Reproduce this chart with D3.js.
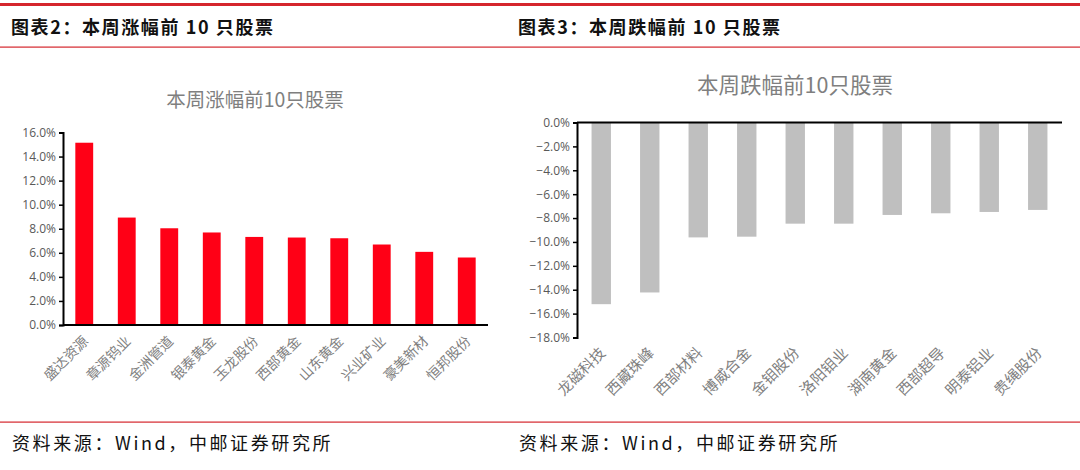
<!DOCTYPE html>
<html>
<head>
<meta charset="utf-8">
<script src="https://cdn.jsdelivr.net/npm/d3@7"></script>
<style>
  body { margin: 0; background: #fff; }
  svg { display: block; }
</style>
</head>
<body>
<div id="chart-area"></div>
<script>
// data
var upNames = ["盛达资源", "章源钨业", "金洲管道", "银泰黄金", "玉龙股份", "西部黄金", "山东黄金", "兴业矿业", "豪美新材", "恒邦股份"]
var upValues = [15.15, 8.93, 8.04, 7.69, 7.32, 7.27, 7.21, 6.69, 6.08, 5.61]
var upTicks = [0, 2, 4, 6, 8, 10, 12, 14, 16]

var downNames = ["龙磁科技", "西藏珠峰", "西部材料", "博威合金", "金钼股份", "洛阳钼业", "湖南黄金", "西部超导", "明泰铝业", "贵绳股份"]
var downValues = [-15.21, -14.23, -9.62, -9.56, -8.47, -8.47, -7.74, -7.60, -7.49, -7.32]
var downTicks = [0, -2, -4, -6, -8, -10, -12, -14, -16, -18]

var width = 1080
var height = 470
var red = "#d5262d"
var cjk = "'Noto Sans CJK SC', 'Noto Sans', sans-serif"

var svg = d3.select("#chart-area").append("svg")
  .attr("width", width)
  .attr("height", height)

// frame lines
svg.append("rect").attr("x", 0).attr("y", 3).attr("width", width).attr("height", 3).attr("fill", red)
svg.append("rect").attr("x", 0).attr("y", 46.5).attr("width", width).attr("height", 1.2).attr("fill", red)
svg.append("rect").attr("x", 0).attr("y", 421.5).attr("width", width).attr("height", 1.2).attr("fill", red)

// headings + footers
var heads = [{x: 11, t: "图表2：本周涨幅前 10 只股票"}, {x: 518, t: "图表3：本周跌幅前 10 只股票"}]
heads.forEach(h => {
  svg.append("text")
    .attr("x", h.x).attr("y", 34)
    .attr("font-family", cjk).attr("font-size", "18px").attr("font-weight", "bold")
    .attr("letter-spacing", "1.6px")
    .attr("fill", "#111")
    .text(h.t)
  svg.append("text")
    .attr("x", h.x + 1).attr("y", 450)
    .attr("font-family", cjk).attr("font-size", "18px")
    .attr("letter-spacing", "2.6px")
    .attr("fill", "#111")
    .text("资料来源：Wind，中邮证券研究所")
})

function drawChart(opt) {
  var g = svg.append("g")

  g.append("text")
    .attr("x", opt.titleX).attr("y", opt.titleY)
    .attr("text-anchor", "middle")
    .attr("font-family", cjk).attr("font-size", opt.titleSize)
    .attr("fill", "#7f7f7f")
    .text(opt.title)

  var x = d3.scaleBand()
    .domain(opt.names)
    .range([opt.left, opt.right])
    .paddingInner(opt.pad)
    .paddingOuter(opt.pad / 2)

  var y = d3.scaleLinear()
    .domain(opt.domain)
    .range([opt.bottom, opt.top])

  var yAxis = d3.axisLeft(y)
    .tickValues(opt.ticks)
    .tickSize(4)
    .tickFormat(d => d3.format(".1f")(d) + "%")

  var yg = g.append("g")
    .attr("transform", "translate(" + opt.left + ",0)")
    .call(yAxis)
  yg.select(".domain").attr("stroke", "#000").attr("stroke-width", 2)
  yg.selectAll(".tick line").attr("stroke", "#000").attr("stroke-width", 1.5)
  yg.selectAll(".tick text")
    .attr("x", -7)
    .attr("font-family", "'Open Sans', sans-serif")
    .attr("font-size", "12px")
    .attr("fill", "#595959")

  g.selectAll(".bar")
    .data(opt.values)
    .enter().append("rect")
    .attr("x", (d, i) => x(opt.names[i]))
    .attr("width", x.bandwidth())
    .attr("y", d => y(Math.max(0, d)))
    .attr("height", d => Math.abs(y(d) - y(0)))
    .attr("fill", opt.color)

  // category axis line at zero
  g.append("line")
    .attr("x1", opt.left).attr("x2", opt.right)
    .attr("y1", y(0)).attr("y2", y(0))
    .attr("stroke", "#000").attr("stroke-width", 2)

  g.selectAll(".cat")
    .data(opt.names)
    .enter().append("text")
    .attr("transform", d => "translate(" + (x(d) + x.bandwidth() / 2 + 5) + "," + opt.labelY + ") rotate(-45)")
    .attr("text-anchor", "end")
    .attr("font-family", cjk)
    .attr("font-size", opt.labelSize)
    .attr("fill", "#7f7f7f")
    .text(d => d)
}

drawChart({
  title: "本周涨幅前10只股票", titleX: 255, titleY: 107, titleSize: "19.5px",
  names: upNames, values: upValues, ticks: upTicks, domain: [0, 16],
  left: 63, right: 488, top: 132.5, bottom: 325, pad: 0.58,
  labelY: 342, labelSize: "14px", color: "#ff0016"
})

drawChart({
  title: "本周跌幅前10只股票", titleX: 795, titleY: 93, titleSize: "21.5px",
  names: downNames, values: downValues, ticks: downTicks, domain: [-18, 0],
  left: 577, right: 1062, top: 122.5, bottom: 337.5, pad: 0.6,
  labelY: 354, labelSize: "15px", color: "#bfbfbf"
})
</script>
</body>
</html>
